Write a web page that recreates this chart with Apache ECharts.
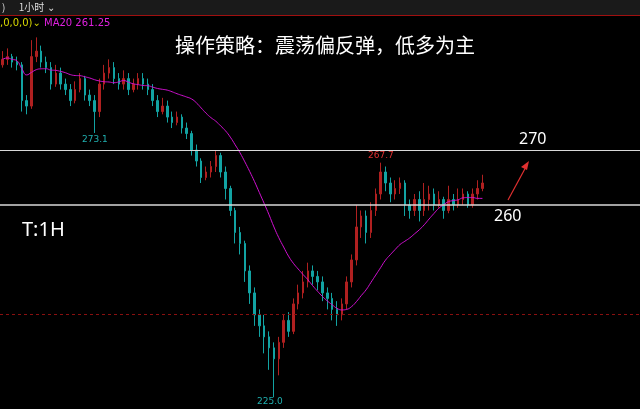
<!DOCTYPE html>
<html>
<head>
<meta charset="utf-8">
<script src="https://cdn.jsdelivr.net/npm/echarts@6/dist/echarts.min.js"></script>
<style>html,body{margin:0;padding:0;background:#000}#chart{width:640px;height:409px}</style>
</head>
<body>
<div id="chart"></div>
<script>
// hourly bars, [open, close, low, high]
var bars = [
  [285.5,286.5,285,288],[286.5,287,285.5,288.5],[287,286,285,287.5],[286,285.5,284.5,287],[285.5,279,277,286],
  [279,278,276.5,280],[278,287,277.5,290],[287,288,286,290.5],[288,286,285,289],[286,285,284,287],
  [285,282,281,286],[282,284,281.5,285.5],[284,282,281,285],[282,281,280,283],[281,279,278,282],
  [279,281,278.5,282.5],[281,283,280.5,284],[283,280,279,283.5],[280,279,278,281],[279,277,273.1,280],
  [277,282,276,283],[282,284,281,285.5],[284,285,283,286.5],[285,283,282,286],[283,282,281,284],
  [282,283,281,284.5],[283,281,280,284],[281,282,280.5,283],[282,283,281,284],[283,282,281,284],
  [282,281,280,283],[281,279,278,282],[279,277,276,280],[277,278,276.5,279.5],[278,276,275,279],
  [276,275,274,277],[275,276,274.5,277],[276,274,273,276.5],[274,273,272,275],[273,270,269,273.5],
  [270,268,267,271],[268,265,264,268.5],[265,266,264.5,267],[266,267,265,268],[267,269,266,270],
  [269,266,265,269.5],[266,263,261,267],[263,259,258,263.5],[259,255,253,259.5],[255,253,251,256],
  [253,248,246,253.5],[248,244,242,249],[244,240,238,245],[240,238,236,241],[238,236,233,240],
  [236,234,230,237],[234,232,225.0,235],[232,235,229,236],[235,239,234,240],[239,237,236,240.5],
  [237,242,236.5,243],[242,244,241,245.5],[244,246,243,248],[246,248,245,249.5],[248,247,245.5,249],
  [247,246,244.5,248],[246,244,242.5,247],[244,243,241,245],[243,241,239,244],[241,240,238,242.5],
  [240,242,239,243],[242,246,241,247],[246,250,245,251],[250,256,249,260],[256,258,254,259],
  [258,255,253,259],[255,259,254,260.5],[259,262,258,263],[262,266,261,267.7],[266,264,262.5,267],
  [264,262,260.5,265],[262,263,261,264.5],[263,264,262,265],[264,260,258,264.5],[260,259,257.5,261],
  [259,261,258,262],[261,259,257,262.5],[259,261,258,264],[261,262,259,263.5],[262,260,259,263],
  [260,261,259.5,262.5],[261,259,257.5,261.5],[259,261,258.5,263.5],[261,260,259,262],[260,261,259.5,263],
  [261,262,260,263],[262,260,259.5,262.5],[260,262,259.5,263],[262,263,261,264.5],[263,264,262.5,265.5]
];
var slotCount = 132;
var yMin = 223.6;
var yMax = 293.3;
var levelHigh = 270;
var levelLow = 260;
var levelDash = 240.2;

var cats = [];
for (var i = 0; i < slotCount; i++) cats.push(i);

var ma20 = bars.map(function (b, idx) {
  var s = 0, n = 0;
  for (var k = Math.max(0, idx - 19); k <= idx; k++) { s += bars[k][1]; n++; }
  return +(s / n).toFixed(2);
});

var chart = echarts.init(document.getElementById("chart"));
chart.setOption({
  backgroundColor: "#000",
  animation: false,
  grid: { left: 0, right: 0, top: 22, bottom: 4 },
  xAxis: { type: "category", data: cats, show: false, boundaryGap: true },
  yAxis: { min: yMin, max: yMax, show: false, splitLine: { show: false } },
  series: [
    {
      type: "candlestick",
      data: bars,
      barWidth: 2,
      itemStyle: { color: "#b02020", color0: "#12a3a3", borderColor: "#b02020", borderColor0: "#12a3a3", borderWidth: 1 },
      markLine: {
        symbol: "none",
        silent: true,
        label: { show: false },
        data: [
          { yAxis: levelHigh, lineStyle: { color: "#d8d8d8", type: "solid", width: 1 } },
          { yAxis: levelLow, lineStyle: { color: "#d8d8d8", type: "solid", width: 1.5 } },
          { yAxis: levelDash, lineStyle: { color: "#8a1010", type: [3, 3], width: 1 } }
        ]
      }
    },
    {
      type: "line",
      data: ma20,
      symbol: "none",
      smooth: true,
      lineStyle: { color: "#d010d0", width: 1 }
    }
  ],
  graphic: [
    { type: "rect", shape: { x: 0, y: 0, width: 640, height: 15 }, style: { fill: "#1a1a1a" } },
    { type: "line", shape: { x1: 0, y1: 15.5, x2: 640, y2: 15.5 }, style: { stroke: "#a01010", lineWidth: 1 } },
    { type: "text", x: 2, y: 2, style: { text: ")      1小时 ⌄", fill: "#ddd", font: "10px 'Noto Sans CJK SC'" } },
    { type: "text", x: 0, y: 18, style: { text: ",0,0,0)⌄", fill: "#d8d800", font: "10px 'DejaVu Sans'" } },
    { type: "text", x: 44, y: 18, style: { text: "MA20 261.25", fill: "#e020e0", font: "10px 'DejaVu Sans'" } },
    { type: "text", x: 175, y: 35, style: { text: "操作策略：震荡偏反弹，低多为主", fill: "#fff", font: "20px 'Noto Sans CJK SC'" } },
    { type: "text", x: 22, y: 220, style: { text: "T:1H", fill: "#fff", font: "20px 'Noto Sans'" } },
    { type: "text", x: 519, y: 131, style: { text: "270", fill: "#fff", font: "16px 'Noto Sans'" } },
    { type: "text", x: 494, y: 208, style: { text: "260", fill: "#fff", font: "16px 'Noto Sans'" } },
    { type: "text", x: 82, y: 135, style: { text: "273.1", fill: "#20b0b0", font: "9px 'DejaVu Sans'" } },
    { type: "text", x: 368, y: 151, style: { text: "267.7", fill: "#e03030", font: "9px 'DejaVu Sans'" } },
    { type: "text", x: 257, y: 397, style: { text: "225.0", fill: "#20b0b0", font: "9px 'DejaVu Sans'" } },
    { type: "line", shape: { x1: 508, y1: 200, x2: 527, y2: 165 }, style: { stroke: "#e03030", lineWidth: 1.2 } },
    { type: "polygon", shape: { points: [[529, 161], [521, 167], [527, 170]] }, style: { fill: "#e03030" } }
  ]
});
</script>
</body>
</html>
